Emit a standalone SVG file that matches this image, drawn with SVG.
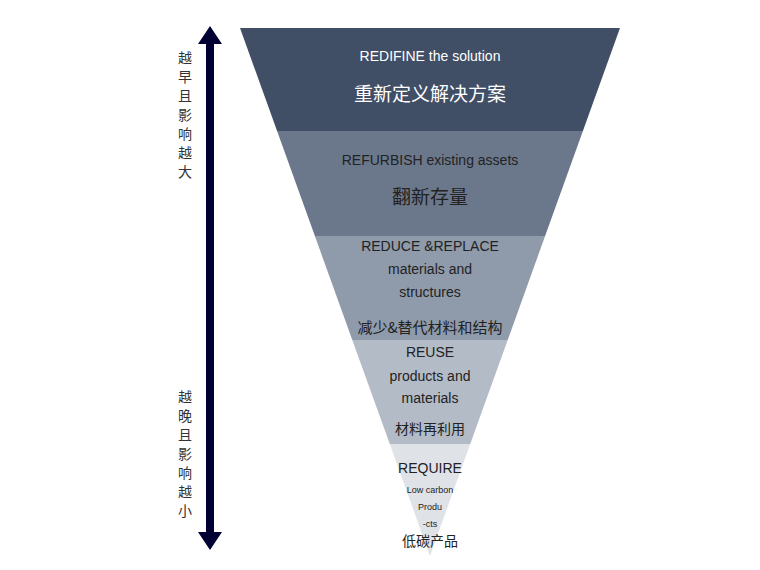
<svg xmlns="http://www.w3.org/2000/svg" width="760" height="570" viewBox="0 0 760 570">
<style>
.en{font-family:"Liberation Sans","Noto Sans CJK SC",sans-serif;text-anchor:middle;font-size:14px}
.zh{font-family:"Noto Sans CJK SC",sans-serif;text-anchor:middle;font-size:19px}
.w{fill:#ffffff}.k{fill:#222222}
.side{font-family:"Noto Sans CJK SC",sans-serif;font-size:14px;fill:#333;text-anchor:middle}
</style>
<rect width="760" height="570" fill="#ffffff"/>
<g id="arrow"><polygon points="210,26 222,44 214,44 214,532 222,532 210,550 198,532 206,532 206,44 198,44" fill="#000033"/></g>
<g id="side-top"><text class="side" x="185" y="63">越</text><text class="side" x="185" y="82">早</text><text class="side" x="185" y="101">且</text><text class="side" x="185" y="120">影</text><text class="side" x="185" y="139">响</text><text class="side" x="185" y="158">越</text><text class="side" x="185" y="177">大</text></g>
<g id="side-bottom"><text class="side" x="185" y="402">越</text><text class="side" x="185" y="421">晚</text><text class="side" x="185" y="440">且</text><text class="side" x="185" y="459">影</text><text class="side" x="185" y="478">响</text><text class="side" x="185" y="497">越</text><text class="side" x="185" y="516">小</text></g>
<g id="band1"><polygon points="240,28 620,28 582.9,131 277.1,131" fill="#404e66"/>
<text class="en w" x="430" y="61">REDIFINE the solution</text><text class="zh w" x="430" y="101">重新定义解决方案</text></g>
<g id="band2"><polygon points="277.1,131 582.9,131 545.1,236 314.9,236" fill="#6b788c"/>
<text class="en k" x="430" y="165">REFURBISH existing assets</text><text class="zh k" x="430" y="204">翻新存量</text></g>
<g id="band3"><polygon points="314.9,236 545.1,236 507.7,340 352.3,340" fill="#8f9aab"/>
<text class="en k" x="430" y="251">REDUCE &amp;REPLACE</text><text class="en k" x="430" y="274">materials and</text><text class="en k" x="430" y="297">structures</text><text class="zh k" x="430" y="333" style="font-size:15px">减少&amp;替代材料和结构</text></g>
<g id="band4"><polygon points="352.3,340 507.7,340 470.2,444 389.8,444" fill="#b3bbc7"/>
<text class="en k" x="430" y="357">REUSE</text><text class="en k" x="430" y="381">products and</text><text class="en k" x="430" y="403">materials</text><text class="zh k" x="430" y="434" style="font-size:14px">材料再利用</text></g>
<g id="band5"><polygon points="389.8,444 470.2,444 430,556" fill="#dfe2e7"/>
<text class="en k" x="430" y="473">REQUIRE</text><text class="en k" x="430" y="493" style="font-size:9px">Low carbon</text><text class="en k" x="430" y="510" style="font-size:9px">Produ</text><text class="en k" x="430" y="527" style="font-size:9px">-cts</text><text class="zh k" x="430" y="546" style="font-size:14px">低碳产品</text></g>
</svg>
